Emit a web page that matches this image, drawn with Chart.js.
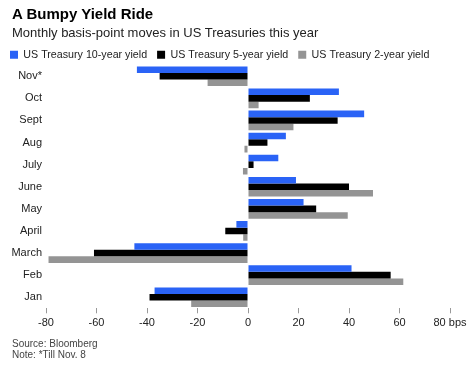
<!DOCTYPE html>
<html>
<head>
<meta charset="utf-8">
<script src="https://cdn.jsdelivr.net/npm/chart.js@4"></script>
<style>
  body { margin: 0; background: #fff; font-family: "Liberation Sans", Arial, sans-serif; }
  #wrap { position: relative; width: 474px; height: 369px; }
  .txt { position: absolute; left: 12px; white-space: nowrap; color: #000; }
  #title { top: 6px; font-size: 15px; line-height: 15px; font-weight: bold; }
  #sub { top: 26px; font-size: 13px; line-height: 13px; color: #222; }
  #src { top: 339px; font-size: 10px; line-height: 10px; color: #444; }
  #note { top: 350px; font-size: 10px; line-height: 10px; color: #444; }
  #box { position: absolute; left: 0; top: 0; width: 474px; height: 369px; }
</style>
</head>
<body>
<div id="wrap">
  <div id="box"><canvas id="chart1"></canvas></div>
  <div class="txt" id="title">A Bumpy Yield Ride</div>
  <div class="txt" id="sub">Monthly basis-point moves in US Treasuries this year</div>
  <div class="txt" id="src">Source: Bloomberg</div>
  <div class="txt" id="note">Note: *Till Nov. 8</div>
</div>
<script>
// months, newest on top
const months = ['Nov*', 'Oct', 'Sept', 'Aug', 'July', 'June', 'May', 'April', 'March', 'Feb', 'Jan'];

// monthly moves in basis points
const tenYear  = [-44, 36, 46, 15, 12, 19, 22, -4.6, -45, 41, -37];
const fiveYear = [-35, 24.5, 35.5, 7.7, 2.2, 40, 27, -9, -61, 56.5, -39];
const twoYear  = [-16, 4.2, 18, -1.4, -2, 49.5, 39.5, -1.9, -79, 61.5, -22.5];

const xTicks = [-80, -60, -40, -20, 0, 20, 40, 60, 80];

const canvas1 = document.getElementById('chart1');

// pull the bars a bit closer to the legend
const legendGap = {
  id: 'legendGap',
  beforeInit: function(chart) {
    const origFit = chart.legend.fit;
    chart.legend.fit = function() {
      origFit.bind(chart.legend)();
      this.height -= 5;
    };
  }
};

const chart1 = new Chart(canvas1, {
  type: 'bar',
  data: {
    labels: months,
    datasets: [
      { label: 'US Treasury 10-year yield', data: tenYear, backgroundColor: '#2a63f6' },
      { label: 'US Treasury 5-year yield', data: fiveYear, backgroundColor: '#000000' },
      { label: 'US Treasury 2-year yield', data: twoYear, backgroundColor: '#949494' }
    ]
  },
  plugins: [legendGap],
  options: {
    indexAxis: 'y',
    responsive: true,
    maintainAspectRatio: false,
    animation: false,
    datasets: {
      bar: { categoryPercentage: 0.89, barPercentage: 1 }
    },
    layout: { padding: { top: 39.5, left: 0, right: 24, bottom: 36.5 } },
    scales: {
      x: {
        min: -80,
        max: 80,
        afterBuildTicks: function(scale) {
          scale.ticks = xTicks.map(function(v) { return { value: v }; });
        },
        ticks: {
          color: '#222',
          font: { family: 'Liberation Sans', size: 11 },
          padding: 3,
          maxRotation: 0,
          callback: function(v) { return v === 80 ? '80 bps' : v; }
        },
        grid: { drawOnChartArea: false, drawTicks: true, tickLength: 5, color: '#999' },
        border: { display: false }
      },
      y: {
        afterFit: function(scale) { scale.width = 46; },
        ticks: {
          color: '#222',
          font: { family: 'Liberation Sans', size: 11 },
          padding: 4
        },
        grid: { display: false, drawTicks: false },
        border: { display: false }
      }
    },
    plugins: {
      legend: {
        position: 'top',
        align: 'start',
        labels: {
          boxWidth: 8,
          boxHeight: 8,
          padding: 10,
          color: '#222',
          font: { family: 'Liberation Sans', size: 10.7 }
        }
      },
      tooltip: { enabled: false }
    }
  }
});
</script>
</body>
</html>
